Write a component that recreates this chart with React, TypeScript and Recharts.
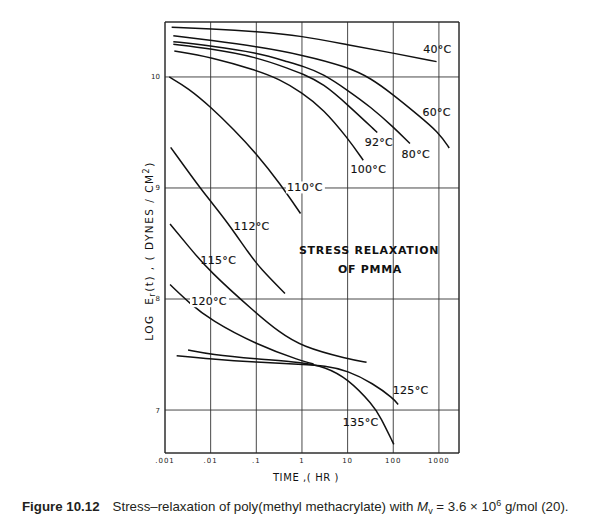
import React from 'react';
import {
  LineChart,
  Line,
  XAxis,
  YAxis,
  CartesianGrid,
  ReferenceDot,
  ReferenceArea,
} from 'recharts';

// ---- data (time in hours, value = log Er(t) in dynes/cm^2) ----
const t40 = [0.0014, 0.01, 0.1, 1, 10, 100, 889];
const v40 = [10.448, 10.435, 10.41, 10.37, 10.29, 10.215, 10.138];

const t60 = [0.00152, 0.01, 0.1, 1, 10, 32, 100, 320, 1000, 1680];
const v60 = [10.372, 10.33, 10.275, 10.2, 10.09, 9.99, 9.84, 9.67, 9.5, 9.36];

const t80 = [0.00152, 0.01, 0.1, 0.55, 1, 2.9, 10, 32, 100, 232];
const v80 = [10.318, 10.28, 10.22, 10.13, 10.1, 10.03, 9.88, 9.73, 9.55, 9.4];

const t92 = [0.00152, 0.01, 0.1, 0.55, 1, 2.95, 10, 44.6];
const v92 = [10.294, 10.255, 10.18, 10.07, 10.03, 9.94, 9.75, 9.5];

const t100 = [0.0016, 0.01, 0.1, 0.32, 1, 2.95, 10, 22];
const v100 = [10.234, 10.18, 10.06, 9.98, 9.86, 9.71, 9.45, 9.25];

const t110 = [0.00124, 0.0032, 0.01, 0.0316, 0.1, 0.33, 0.93];
const v110 = [10.0, 9.9, 9.73, 9.53, 9.31, 9.04, 8.77];

const t112 = [0.00133, 0.0054, 0.01, 0.0224, 0.072, 0.12, 0.425];
const v112 = [9.366, 9.02, 8.88, 8.7, 8.4, 8.28, 8.05];

const t115 = [0.00129, 0.0035, 0.0089, 0.1, 0.31, 1, 10, 26];
const v115 = [8.676, 8.46, 8.26, 7.87, 7.705, 7.57, 7.46, 7.43];

const t120 = [0.00129, 0.0035, 0.01, 0.1, 1, 1.8];
const v120 = [8.13, 7.96, 7.81, 7.59, 7.44, 7.415];

const t125 = [0.0018, 0.01, 0.1, 1, 3.16, 10, 36, 100, 128];
const v125 = [7.49, 7.46, 7.43, 7.41, 7.4, 7.355, 7.24, 7.105, 7.05];

const t135 = [0.0032, 0.01, 0.1, 1, 3.16, 10, 36, 52, 103];
const v135 = [7.54, 7.5, 7.46, 7.43, 7.39, 7.285, 7.045, 6.94, 6.69];

const seriesNames = ['40°C', '60°C', '80°C', '92°C', '100°C', '110°C', '112°C', '115°C', '120°C', '125°C', '135°C'];
const seriesTimes = [t40, t60, t80, t92, t100, t110, t112, t115, t120, t125, t135];
const seriesValues = [v40, v60, v80, v92, v100, v110, v112, v115, v120, v125, v135];

// curve label anchors (time, value)
const labelTimes = [927, 891, 311, 48.5, 28.4, 1.16, 0.079, 0.0147, 0.0092, 240, 19.3];
const labelValues = [10.243, 9.678, 9.3, 9.41, 9.162, 9.005, 8.65, 8.35, 7.98, 7.173, 6.885];
const labelBoxed = [false, false, false, false, false, true, false, false, true, false, false];

const titleLines = ['STRESS RELAXATION', 'OF PMMA'];
const titleTimes = [29.6, 31];
const titleValues = [8.434, 8.266];

const xTicks = [0.001, 0.01, 0.1, 1, 10, 100, 1000];
const xTickLabels = ['.001', '.01', '.1', '1', '10', '100', '1000'];
const yTicks = [7, 8, 9, 10];
const xDomain = [0.001, 2754];
const yDomain = [6.613, 10.495];

const seriesData = seriesTimes.map((ts, i) => ts.map((t, j) => ({ t, v: seriesValues[i][j] })));

const LBL_FONT = '"DejaVu Sans", sans-serif';

const CurveLabel = (props: any) => {
  const { cx, cy, text, boxed } = props;
  if (cx == null || cy == null) return null;
  return (
    <g>
      {boxed && <rect x={cx - 19} y={cy - 6} width={39} height={12} fill="#fff" />}
      <text
        x={cx}
        y={cy}
        textAnchor="middle"
        dominantBaseline="central"
        fontFamily={LBL_FONT}
        fontSize={11}
        letterSpacing={0.3}
        fill="#111"
        stroke="#111"
        strokeWidth={0.15}
      >
        {text}
      </text>
    </g>
  );
};

const TitleLabel = (props: any) => {
  const { cx, cy, text } = props;
  if (cx == null || cy == null) return null;
  return (
    <text
      x={cx}
      y={cy}
      textAnchor="middle"
      dominantBaseline="central"
      fontFamily={LBL_FONT}
      fontSize={11}
      fontWeight="bold"
      letterSpacing={0.7}
      fill="#111"
    >
      {text}
    </text>
  );
};

export default function App() {
  return (
    <div style={{ position: 'relative', width: 581, height: 513 }}>
      <LineChart
        width={581}
        height={480}
        margin={{ top: 14, right: 130, bottom: 5, left: 127 }}
      >
        <CartesianGrid stroke="#333" strokeWidth={0.9} horizontal vertical />
        <XAxis
          dataKey="t"
          type="number"
          scale="log"
          domain={xDomain}
          allowDataOverflow
          ticks={xTicks}
          tickFormatter={(v: number) => xTickLabels[xTicks.indexOf(v)] ?? ''}
          tickLine={false}
          axisLine={false}
          tickSize={0}
          tickMargin={5}
          height={30}
          tick={{ fontSize: 7, fill: '#222', fontFamily: LBL_FONT, letterSpacing: 1 }}
        />
        <YAxis
          dataKey="v"
          type="number"
          domain={yDomain}
          allowDataOverflow
          ticks={yTicks}
          tickLine={false}
          axisLine={false}
          tickSize={0}
          tickMargin={5}
          width={30}
          tick={{ fontSize: 7, fill: '#222', fontFamily: LBL_FONT }}
        />
        <ReferenceArea
          x1={xDomain[0]}
          x2={xDomain[1]}
          y1={yDomain[0]}
          y2={yDomain[1]}
          fill="none"
          fillOpacity={0}
          stroke="#222"
          strokeWidth={1}
        />
        {seriesData.map((d, i) => (
          <Line
            key={seriesNames[i]}
            data={d}
            dataKey="v"
            name={seriesNames[i]}
            type="basis"
            stroke="#111"
            strokeWidth={1.5}
            dot={false}
            activeDot={false}
            isAnimationActive={false}
          />
        ))}
        {seriesNames.map((name, i) => (
          <ReferenceDot
            key={'lbl' + name}
            x={labelTimes[i]}
            y={labelValues[i]}
            r={0}
            shape={(p: any) => <CurveLabel {...p} text={name} boxed={labelBoxed[i]} />}
          />
        ))}
        {titleLines.map((s, i) => (
          <ReferenceDot
            key={'title' + i}
            x={titleTimes[i]}
            y={titleValues[i]}
            r={0}
            shape={(p: any) => <TitleLabel {...p} text={s} />}
          />
        ))}
      </LineChart>

      <div
        style={{
          position: 'absolute',
          left: 298,
          top: 469,
          transform: 'translate(-50%, -50%)',
          fontFamily: LBL_FONT,
          fontSize: 10,
          letterSpacing: 0.6,
          color: '#111',
          whiteSpace: 'nowrap',
          lineHeight: '11px',
        }}
      >
        TIME ,( HR )
      </div>

      <div
        style={{
          position: 'absolute',
          left: 142,
          top: 243,
          transform: 'translate(-50%, -50%) rotate(-90deg)',
          fontFamily: LBL_FONT,
          fontSize: 10.5,
          letterSpacing: 1.5,
          color: '#111',
          whiteSpace: 'nowrap',
          lineHeight: '11px',
        }}
      >
        LOG&nbsp;&nbsp;E<span style={{ fontSize: 8, position: 'relative', top: 2 }}>r</span>(t) , ( DYNES / CM
        <span style={{ fontSize: 8, position: 'relative', top: -4 }}>2</span>)
      </div>

      <div
        style={{
          position: 'absolute',
          left: 14,
          top: 499,
          transform: 'translateY(-50%)',
          fontFamily: '"Liberation Sans", Arial, sans-serif',
          fontSize: 13.3,
          color: '#231f20',
          whiteSpace: 'nowrap',
          lineHeight: '16px',
        }}
      >
        <b>Figure 10.12</b>
        <span style={{ marginLeft: 13 }}>Stress–relaxation of poly(methyl methacrylate) with </span>
        <i>M</i>
        <span style={{ fontSize: 9, position: 'relative', top: 3 }}>v</span> = 3.6 × 10
        <span style={{ fontSize: 9, position: 'relative', top: -5 }}>6</span> g/mol (20).
      </div>
    </div>
  );
}
